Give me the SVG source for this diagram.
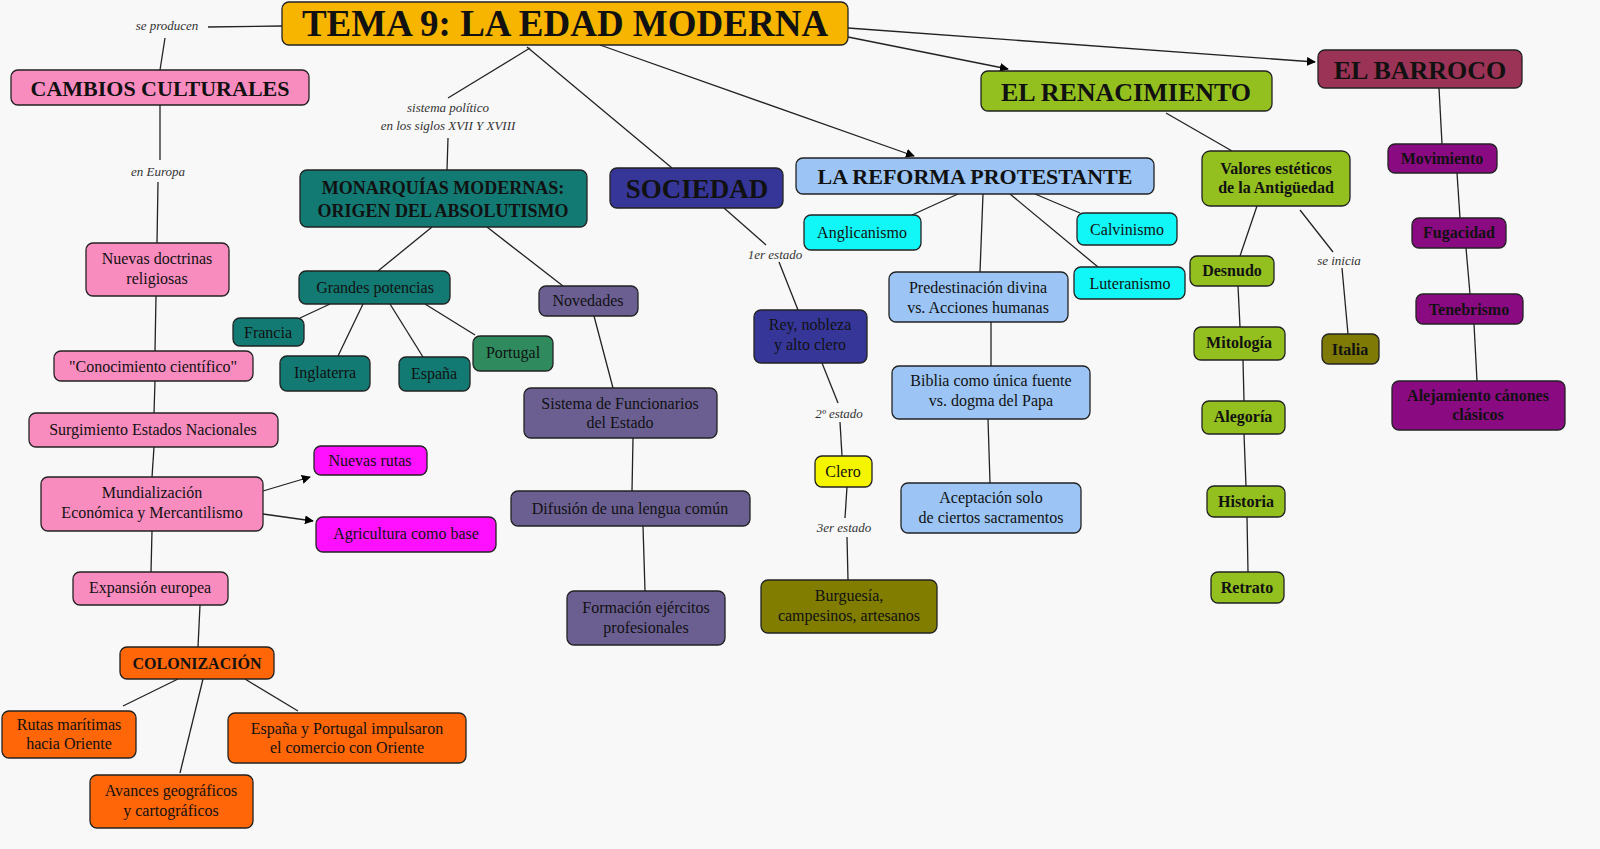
<svg xmlns="http://www.w3.org/2000/svg" width="1600" height="849" viewBox="0 0 1600 849">
<defs>
<marker id="ar" viewBox="0 0 10 10" refX="9" refY="5" markerWidth="9" markerHeight="9" orient="auto" markerUnits="userSpaceOnUse"><path d="M0,0 L10,5 L0,10 z" fill="#000"/></marker>
<style>
rect{stroke:#222;stroke-width:1.3}
text{font-family:"Liberation Serif","Times New Roman",serif;fill:#111;text-anchor:middle}
.n{font-size:16px}
.b{font-size:16px;font-weight:bold}
.h{font-weight:bold}
.l{font-size:13px;font-style:italic;fill:#333}
.c line{stroke:#222;stroke-width:1.3}
.pk{fill:#f98cbf}.tl{fill:#127a73}.cy{fill:#11f7f7}.lb{fill:#9cc5f5}.pu{fill:#6b5f92}.nv{fill:#363699}.gr{fill:#93bf1f}.mg{fill:#8a0a82}.or{fill:#ff6608}.ma{fill:#ff11ff}.ol{fill:#7f7a06}
</style>
</defs>
<rect x="0" y="0" width="1600" height="849" fill="#f8f8f8" style="stroke:none"/>
<g class="c">
<line x1="282" y1="26" x2="208" y2="27"/><line x1="165" y1="38" x2="160" y2="70"/>
<line x1="160" y1="105" x2="160" y2="160"/><line x1="158" y1="182" x2="157" y2="243"/>
<line x1="156" y1="296" x2="155" y2="351"/><line x1="155" y1="381" x2="154" y2="413"/>
<line x1="154" y1="447" x2="152" y2="477"/><line x1="152" y1="531" x2="151" y2="572"/>
<line x1="200" y1="605" x2="198" y2="647"/>
<line x1="263" y1="491" x2="310" y2="477" marker-end="url(#ar)"/>
<line x1="263" y1="514" x2="313" y2="521" marker-end="url(#ar)"/>
<line x1="178" y1="679" x2="123" y2="706"/><line x1="203" y1="679" x2="180" y2="773"/><line x1="245" y1="679" x2="298" y2="711"/>
<line x1="530" y1="48" x2="448" y2="98"/><line x1="448" y1="138" x2="447" y2="170"/>
<line x1="527" y1="47" x2="672" y2="168"/>
<line x1="600" y1="45" x2="914" y2="156" marker-end="url(#ar)"/>
<line x1="848" y1="37" x2="1008" y2="69" marker-end="url(#ar)"/>
<line x1="848" y1="28" x2="1315" y2="62" marker-end="url(#ar)"/>
<line x1="432" y1="227" x2="378" y2="271"/><line x1="487" y1="227" x2="563" y2="286"/>
<line x1="330" y1="304" x2="300" y2="318"/><line x1="363" y1="304" x2="338" y2="356"/>
<line x1="390" y1="304" x2="423" y2="357"/><line x1="425" y1="304" x2="475" y2="335"/>
<line x1="594" y1="316" x2="613" y2="388"/><line x1="633" y1="438" x2="632" y2="491"/><line x1="643" y1="526" x2="645" y2="591"/>
<line x1="724" y1="208" x2="766" y2="245"/><line x1="779" y1="262" x2="798" y2="310"/>
<line x1="822" y1="363" x2="838" y2="403"/><line x1="840" y1="422" x2="842" y2="456"/>
<line x1="847" y1="487" x2="845" y2="518"/><line x1="847" y1="537" x2="848" y2="580"/>
<line x1="958" y1="194" x2="912" y2="215"/><line x1="983" y1="194" x2="980" y2="272"/>
<line x1="1010" y1="194" x2="1098" y2="267"/><line x1="1035" y1="194" x2="1080" y2="213"/>
<line x1="991" y1="322" x2="991" y2="366"/><line x1="988" y1="419" x2="990" y2="483"/>
<line x1="1166" y1="113" x2="1232" y2="151"/>
<line x1="1257" y1="206" x2="1240" y2="256"/><line x1="1300" y1="210" x2="1333" y2="252"/><line x1="1342" y1="268" x2="1348" y2="334"/>
<line x1="1238" y1="286" x2="1240" y2="327"/><line x1="1243" y1="360" x2="1244" y2="401"/>
<line x1="1244" y1="434" x2="1246" y2="486"/><line x1="1247" y1="517" x2="1248" y2="572"/>
<line x1="1439" y1="88" x2="1442" y2="144"/><line x1="1457" y1="173" x2="1460" y2="218"/>
<line x1="1466" y1="248" x2="1470" y2="294"/><line x1="1474" y1="324" x2="1477" y2="381"/>
</g>
<g id="labels">
<text class="l" x="167" y="30">se producen</text>
<text class="l" x="158" y="176">en Europa</text>
<text class="l" x="448" y="112">sistema político</text>
<text class="l" x="448" y="130">en los siglos XVII Y XVIII</text>
<text class="l" x="775" y="259">1er estado</text>
<text class="l" x="839" y="418">2º estado</text>
<text class="l" x="844" y="532">3er estado</text>
<text class="l" x="1339" y="265">se inicia</text>
</g>
<g id="title"><rect x="282" y="2" width="566" height="43" rx="7" fill="#f7b500"/><text class="h" x="565" y="36" style="font-size:37px">TEMA 9: LA EDAD MODERNA</text></g>
<g id="cambios"><rect class="pk" x="11" y="70" width="298" height="35" rx="7"/><text class="h" x="160" y="96" style="font-size:22px">CAMBIOS CULTURALES</text></g>
<g id="monarquias"><rect class="tl" x="300" y="170" width="287" height="57" rx="7"/><text class="b" x="443" y="194" style="font-size:18px">MONARQUÍAS MODERNAS:</text><text class="b" x="443" y="217" style="font-size:18px">ORIGEN DEL ABSOLUTISMO</text></g>
<g id="sociedad"><rect class="nv" x="610" y="168" width="173" height="40" rx="7"/><text class="h" x="697" y="198" style="font-size:27px">SOCIEDAD</text></g>
<g id="reforma"><rect class="lb" x="796" y="158" width="358" height="36" rx="7"/><text class="h" x="975" y="184" style="font-size:22px">LA REFORMA PROTESTANTE</text></g>
<g id="renacimiento"><rect class="gr" x="981" y="71" width="291" height="40" rx="7"/><text class="h" x="1126" y="101" style="font-size:26px">EL RENACIMIENTO</text></g>
<g id="barroco"><rect x="1318" y="50" width="204" height="38" rx="7" fill="#9b3356"/><text class="h" x="1420" y="79" style="font-size:26px">EL BARROCO</text></g>
<g id="anglicanismo"><rect class="cy" x="804" y="215" width="117" height="35" rx="7"/><text class="n" x="862" y="238">Anglicanismo</text></g>
<g id="calvinismo"><rect class="cy" x="1077" y="213" width="100" height="32" rx="7"/><text class="n" x="1127" y="235">Calvinismo</text></g>
<g id="luteranismo"><rect class="cy" x="1074" y="267" width="111" height="32" rx="7"/><text class="n" x="1130" y="289">Luteranismo</text></g>
<g id="predestinacion"><rect class="lb" x="889" y="272" width="179" height="50" rx="7"/><text class="n" x="978" y="293">Predestinación divina</text><text class="n" x="978" y="313">vs. Acciones humanas</text></g>
<g id="biblia"><rect class="lb" x="892" y="366" width="198" height="53" rx="7"/><text class="n" x="991" y="386">Biblia como única fuente</text><text class="n" x="991" y="406">vs. dogma del Papa</text></g>
<g id="aceptacion"><rect class="lb" x="901" y="483" width="180" height="50" rx="7"/><text class="n" x="991" y="503">Aceptación solo</text><text class="n" x="991" y="523">de ciertos sacramentos</text></g>
<g id="grandes"><rect class="tl" x="299" y="271" width="151" height="33" rx="7"/><text class="n" x="375" y="293">Grandes potencias</text></g>
<g id="francia"><rect class="tl" x="233" y="318" width="71" height="28" rx="7"/><text class="n" x="268" y="338">Francia</text></g>
<g id="inglaterra"><rect class="tl" x="280" y="356" width="90" height="35" rx="7"/><text class="n" x="325" y="378">Inglaterra</text></g>
<g id="espana"><rect class="tl" x="399" y="357" width="71" height="34" rx="7"/><text class="n" x="434" y="379">España</text></g>
<g id="portugal"><rect x="473" y="336" width="80" height="35" rx="7" fill="#2f8a5e"/><text class="n" x="513" y="358">Portugal</text></g>
<g id="novedades"><rect class="pu" x="539" y="286" width="99" height="30" rx="7"/><text class="n" x="588" y="306">Novedades</text></g>
<g id="funcionarios"><rect class="pu" x="524" y="388" width="193" height="50" rx="7"/><text class="n" x="620" y="409">Sistema de Funcionarios</text><text class="n" x="620" y="428">del Estado</text></g>
<g id="difusion"><rect class="pu" x="511" y="491" width="239" height="35" rx="7"/><text class="n" x="630" y="514">Difusión de una lengua común</text></g>
<g id="ejercitos"><rect class="pu" x="567" y="591" width="158" height="54" rx="7"/><text class="n" x="646" y="613">Formación ejércitos</text><text class="n" x="646" y="633">profesionales</text></g>
<g id="rey"><rect class="nv" x="754" y="310" width="113" height="53" rx="7"/><text class="n" x="810" y="330">Rey, nobleza</text><text class="n" x="810" y="350">y alto clero</text></g>
<g id="clero"><rect x="815" y="456" width="57" height="31" rx="7" fill="#f5f500"/><text class="n" x="843" y="477">Clero</text></g>
<g id="burguesia"><rect x="761" y="580" width="176" height="53" rx="7" fill="#807d00"/><text class="n" x="849" y="601">Burguesía,</text><text class="n" x="849" y="621">campesinos, artesanos</text></g>
<g id="valores"><rect class="gr" x="1202" y="151" width="148" height="55" rx="8"/><text class="b" x="1276" y="174">Valores estéticos</text><text class="b" x="1276" y="193">de la Antigüedad</text></g>
<g id="desnudo"><rect class="gr" x="1190" y="256" width="84" height="30" rx="7"/><text class="b" x="1232" y="276">Desnudo</text></g>
<g id="mitologia"><rect class="gr" x="1194" y="327" width="91" height="33" rx="7"/><text class="b" x="1239" y="348">Mitología</text></g>
<g id="alegoria"><rect class="gr" x="1202" y="401" width="83" height="33" rx="7"/><text class="b" x="1243" y="422">Alegoría</text></g>
<g id="historia"><rect class="gr" x="1207" y="486" width="78" height="31" rx="7"/><text class="b" x="1246" y="507">Historia</text></g>
<g id="retrato"><rect class="gr" x="1211" y="572" width="73" height="31" rx="7"/><text class="b" x="1247" y="593">Retrato</text></g>
<g id="italia"><rect class="ol" x="1322" y="334" width="57" height="30" rx="7"/><text class="b" x="1350" y="355">Italia</text></g>
<g id="movimiento"><rect class="mg" x="1388" y="144" width="109" height="29" rx="7"/><text class="b" x="1442" y="164">Movimiento</text></g>
<g id="fugacidad"><rect class="mg" x="1412" y="218" width="94" height="30" rx="7"/><text class="b" x="1459" y="238">Fugacidad</text></g>
<g id="tenebrismo"><rect class="mg" x="1416" y="294" width="107" height="30" rx="7"/><text class="b" x="1469" y="315">Tenebrismo</text></g>
<g id="alejamiento"><rect class="mg" x="1392" y="381" width="173" height="49" rx="7"/><text class="b" x="1478" y="401">Alejamiento cánones</text><text class="b" x="1478" y="420">clásicos</text></g>
<g id="doctrinas"><rect class="pk" x="86" y="243" width="143" height="53" rx="7"/><text class="n" x="157" y="264">Nuevas doctrinas</text><text class="n" x="157" y="284">religiosas</text></g>
<g id="conocimiento"><rect class="pk" x="54" y="351" width="199" height="30" rx="7"/><text class="n" x="153" y="372">"Conocimiento científico"</text></g>
<g id="surgimiento"><rect class="pk" x="29" y="413" width="249" height="34" rx="7"/><text class="n" x="153" y="435">Surgimiento Estados Nacionales</text></g>
<g id="mundializacion"><rect class="pk" x="41" y="477" width="222" height="54" rx="7"/><text class="n" x="152" y="498">Mundialización</text><text class="n" x="152" y="518">Económica y Mercantilismo</text></g>
<g id="expansion"><rect class="pk" x="73" y="572" width="155" height="33" rx="7"/><text class="n" x="150" y="593">Expansión europea</text></g>
<g id="rutas"><rect class="ma" x="314" y="446" width="113" height="29" rx="7"/><text class="n" x="370" y="466">Nuevas rutas</text></g>
<g id="agricultura"><rect class="ma" x="316" y="517" width="180" height="35" rx="7"/><text class="n" x="406" y="539">Agricultura como base</text></g>
<g id="colonizacion"><rect class="or" x="120" y="647" width="154" height="32" rx="7"/><text class="b" x="197" y="669">COLONIZACIÓN</text></g>
<g id="maritimas"><rect class="or" x="2" y="711" width="134" height="47" rx="7"/><text class="n" x="69" y="730">Rutas marítimas</text><text class="n" x="69" y="749">hacia Oriente</text></g>
<g id="espport"><rect class="or" x="228" y="713" width="238" height="50" rx="7"/><text class="n" x="347" y="734">España y Portugal impulsaron</text><text class="n" x="347" y="753">el comercio con Oriente</text></g>
<g id="avances"><rect class="or" x="90" y="775" width="163" height="53" rx="7"/><text class="n" x="171" y="796">Avances geográficos</text><text class="n" x="171" y="816">y cartográficos</text></g>
</svg>
